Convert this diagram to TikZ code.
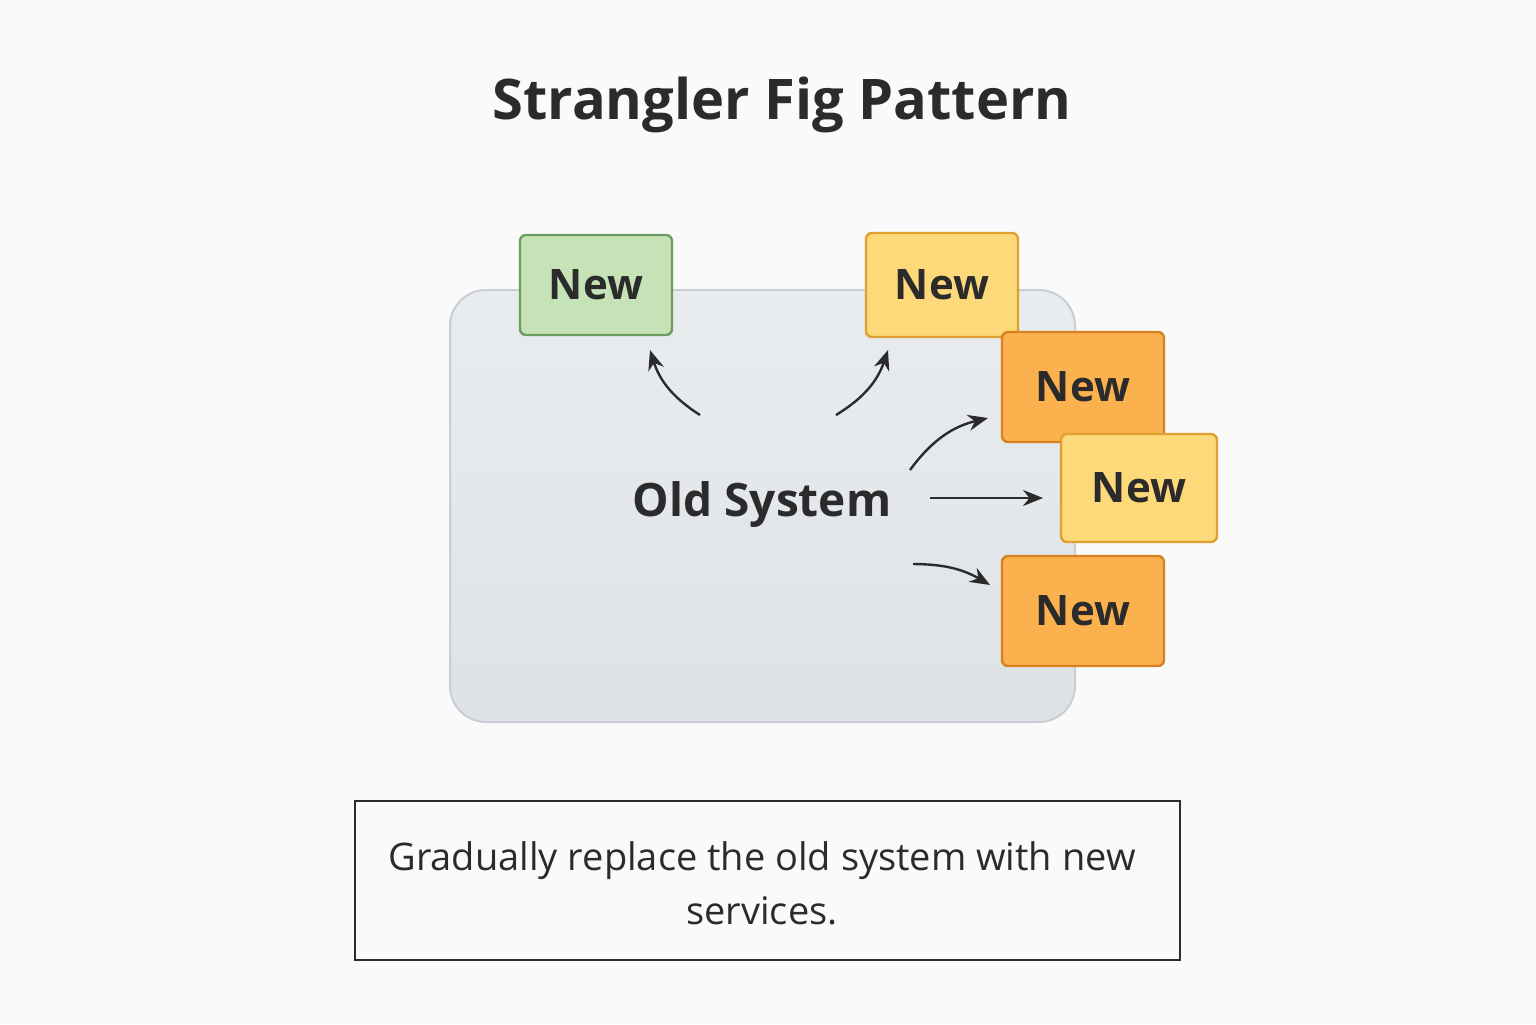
\documentclass[tikz,border=0pt]{standalone}
\usepackage{fontspec}
\setmainfont{Open Sans}
\usetikzlibrary{arrows.meta}
\definecolor{txt}{HTML}{2B2B2B}
\begin{document}
\begin{tikzpicture}[x=0.5pt,y=-0.5pt,
  newbox/.style={draw, line width=1.2pt, rounded corners=3pt, minimum width=76pt, text=txt, font=\fontsize{21}{24}\selectfont\bfseries, inner sep=0pt},
  green/.style={newbox, fill={rgb,255:red,198;green,227;blue,184}, draw={rgb,255:red,106;green,158;blue,94}, minimum height=50pt},
  yel/.style={newbox, fill={rgb,255:red,253;green,217;blue,122}, draw={rgb,255:red,224;green,160;blue,48}, minimum height=52pt},
  ora/.style={newbox, fill={rgb,255:red,251;green,177;blue,78}, draw={rgb,255:red,217;green,128;blue,31}, minimum width=81pt, minimum height=55pt},
  arr/.style={-{Stealth[length=10pt,width=8pt]}, line width=1.2pt, draw=txt}]
\useasboundingbox[fill={rgb,255:red,250;green,250;blue,250}] (0,0) rectangle (1536,1024);
\node[text=txt, font=\fontsize{28}{32}\selectfont\bfseries] (title) at (782,105) {Strangler Fig Pattern};
\path[draw={rgb,255:red,200;green,206;blue,212}, line width=1pt, rounded corners=18pt, top color={rgb,255:red,233;green,236;blue,239}, bottom color={rgb,255:red,222;green,226;blue,231}] (450,290) rectangle (1075,722);
\node[text=txt, font=\fontsize{23}{26}\selectfont\bfseries] (old) at (762,505) {Old System};
\node[green] (g) at (596,285) {New};
\node[yel] (y1) at (942,285) {New};
\node[ora] (o1) at (1083,387) {New};
\node[yel, minimum width=78pt, minimum height=54pt] (y2) at (1139,488) {New};
\node[ora] (o2) at (1083,611) {New};
\coordinate (a1) at (700,415); \coordinate (b1) at (650,350);
\coordinate (a2) at (836,415); \coordinate (b2) at (888,350);
\coordinate (a3) at (910,470); \coordinate (b3) at (988,418);
\coordinate (a4) at (930,498); \coordinate (b4) at (1043,498);
\coordinate (a5) at (913,564); \coordinate (b5) at (990,585);
\draw[arr] (a1) to[bend left=20] (b1);
\draw[arr] (a2) to[bend right=20] (b2);
\draw[arr] (a3) to[bend left=20] (b3);
\draw[arr] (a4) -- (b4);
\draw[arr] (a5) to[bend left=15] (b5);
\node[draw=txt, line width=1pt, minimum width=412.5pt, minimum height=79.5pt, inner sep=0pt] (cap) at (767.5,880.5) {};
\node[text=txt, font=\fontsize{19}{27}\selectfont, align=center] (capt) at (762,883) {Gradually replace the old system with new\\services.};
\end{tikzpicture}
\end{document}
